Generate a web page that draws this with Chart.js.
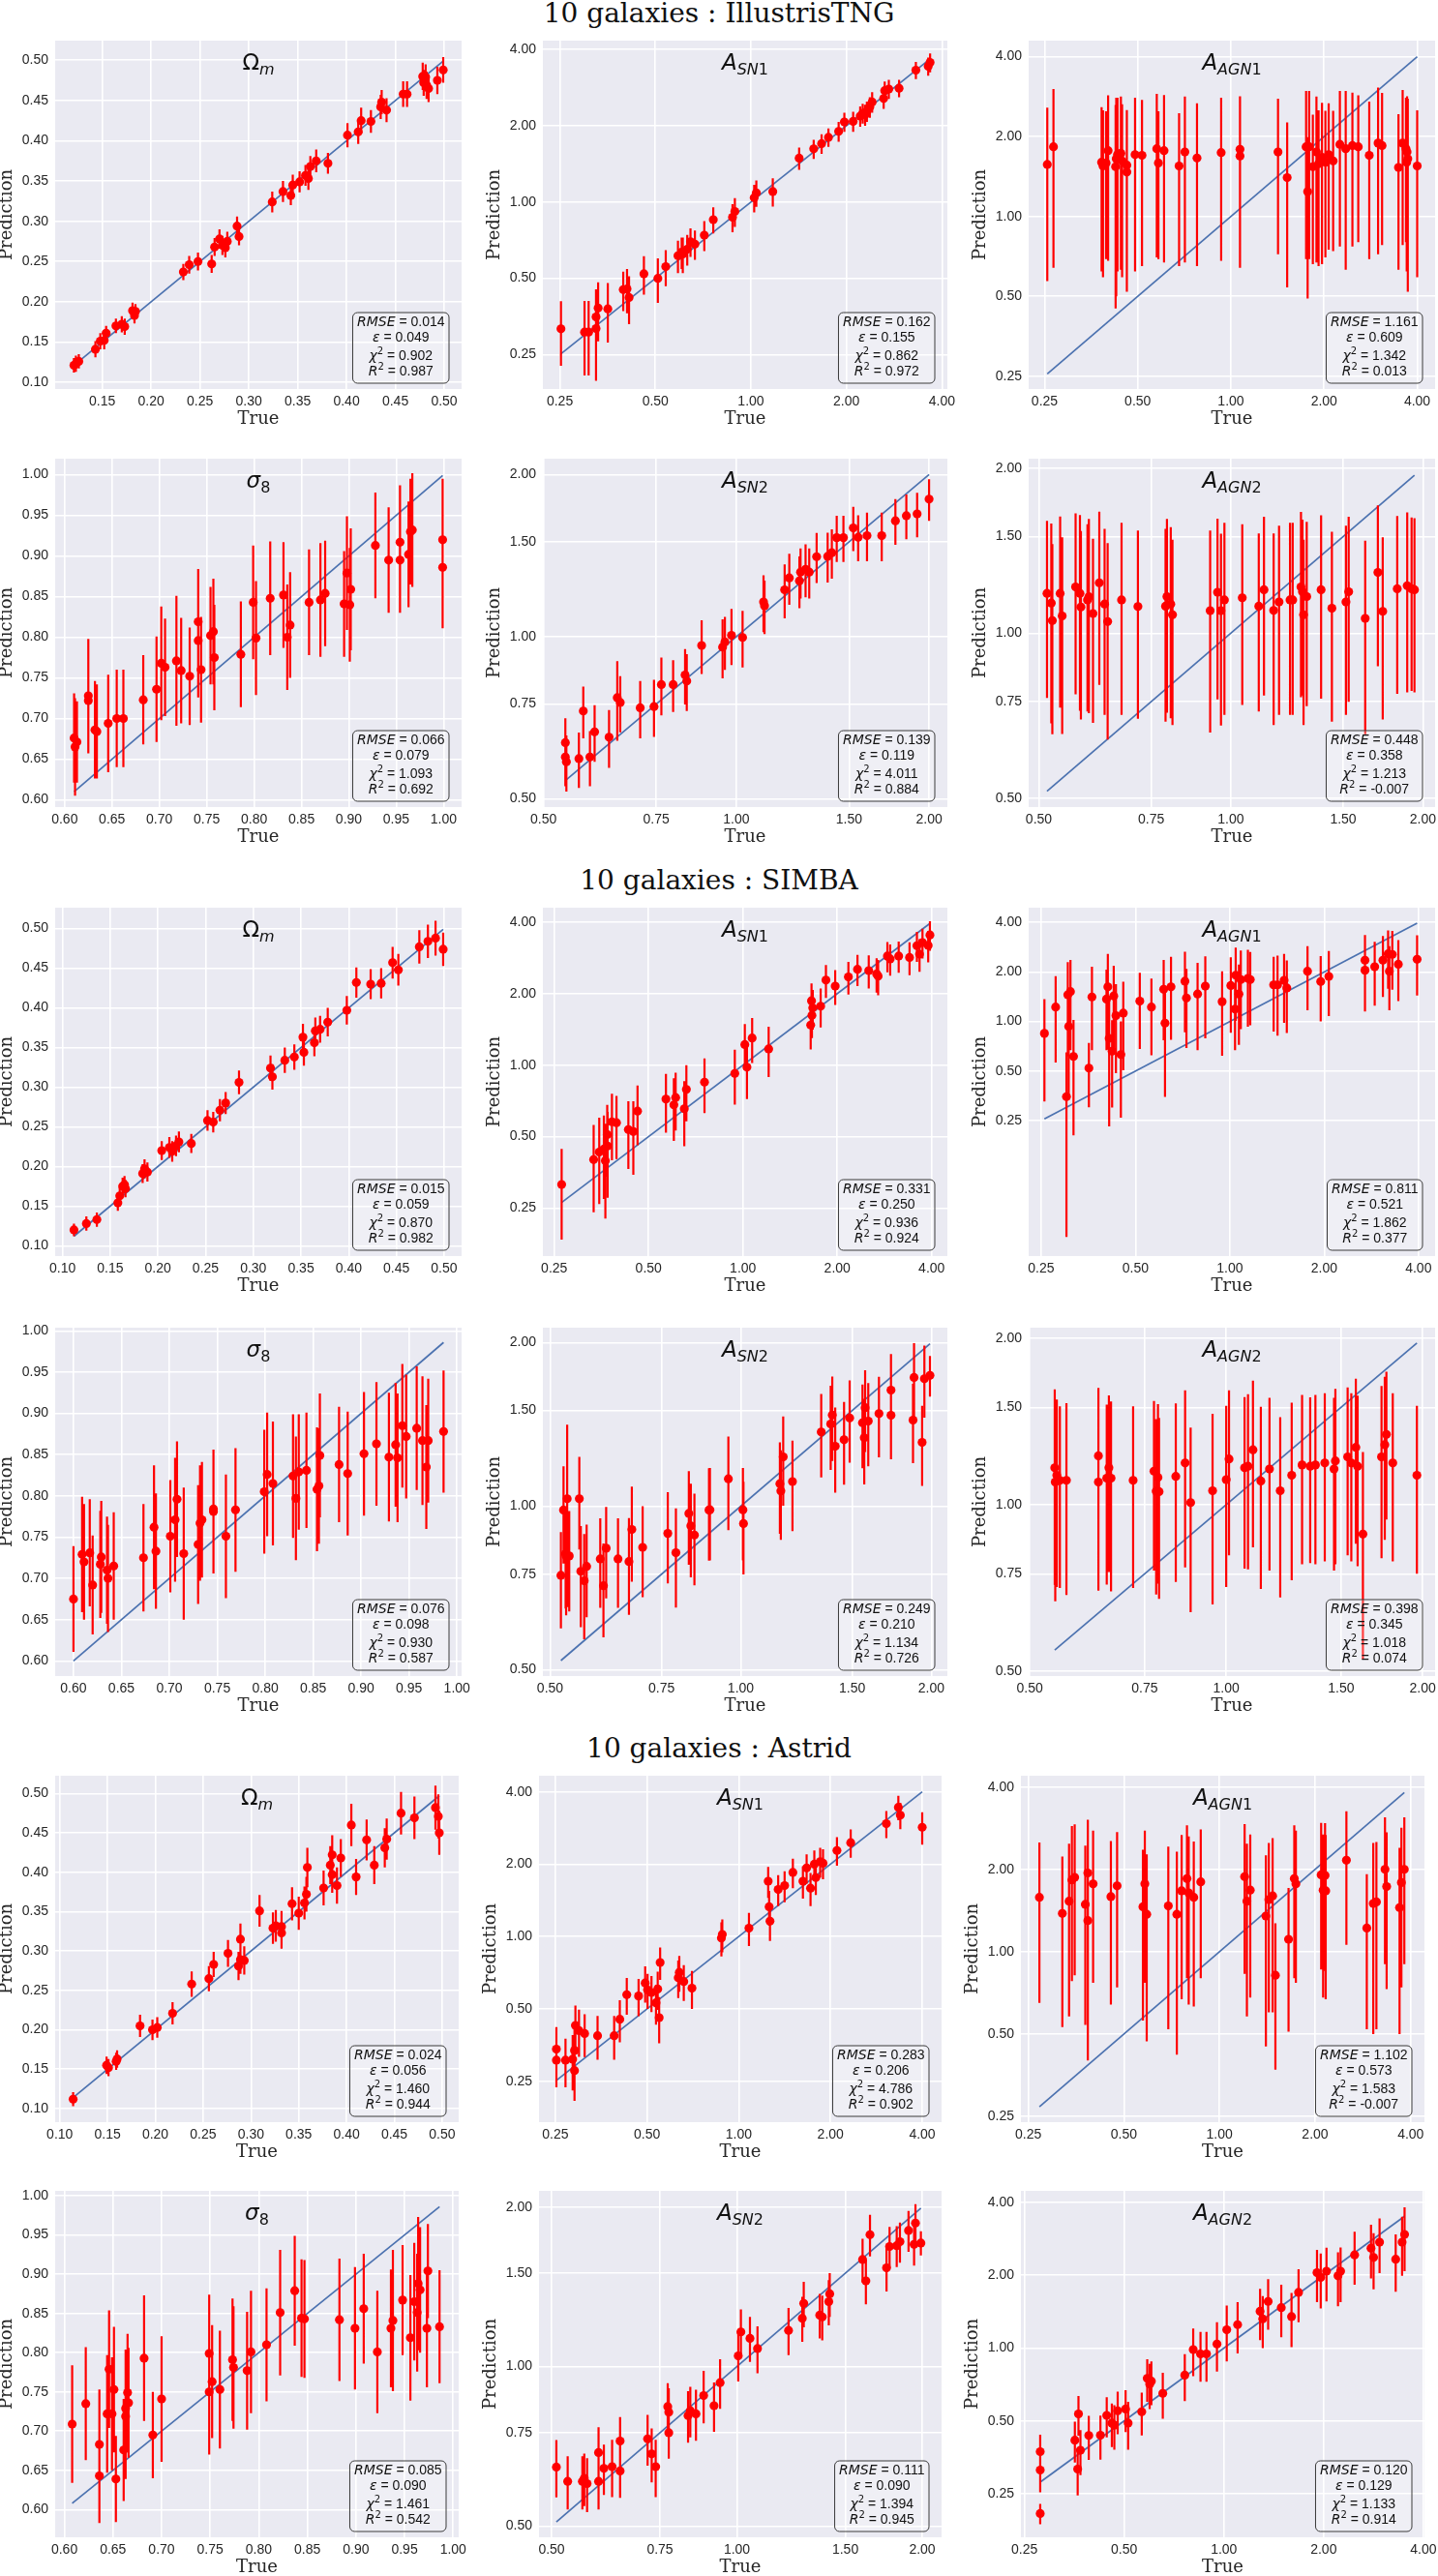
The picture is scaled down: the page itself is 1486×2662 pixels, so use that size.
<!DOCTYPE html>
<html>
<head>
<meta charset="utf-8">
<script src="https://cdn.jsdelivr.net/npm/chart.js@4.4.1/dist/chart.umd.min.js"></script>
<style>
  body { margin: 0; background: #fff; }
  #page { position: relative; width: 1486px; height: 2662px; overflow: hidden; }
  .sect { position: absolute; left: 0; width: 1486px; height: 34px; line-height: 34px; text-align: center;
          font-family: "DejaVu Serif", serif; font-size: 28px; color: #111; }
  canvas { position: absolute; }
</style>
</head>
<body>
<div id="page"></div>
<script>
// ---- tick labels ----
const omegaTicks = [0.10, 0.15, 0.20, 0.25, 0.30, 0.35, 0.40, 0.45, 0.50];
const sigmaTicks = [0.60, 0.65, 0.70, 0.75, 0.80, 0.85, 0.90, 0.95, 1.00];
const wideLogTicks = [0.25, 0.50, 1.00, 2.00, 4.00];
const narrowLogTicks = [0.50, 0.75, 1.00, 1.50, 2.00];

// ---- IllustrisTNG ----
const tngOmTrue = [0.121,0.123,0.126,0.143,0.148,0.152,0.154,0.164,0.170,0.173,0.181,0.183,0.184,0.233,0.239,0.248,0.262,0.265,0.270,0.273,0.276,0.278,0.288,0.290,0.324,0.335,0.343,0.345,0.352,0.358,0.361,0.363,0.369,0.381,0.401,0.412,0.415,0.425,0.435,0.436,0.441,0.458,0.462,0.478,0.479,0.481,0.482,0.484,0.493,0.499];
const tngOmPred = [0.121,0.123,0.126,0.141,0.151,0.152,0.161,0.170,0.172,0.169,0.189,0.183,0.188,0.237,0.246,0.250,0.247,0.268,0.278,0.270,0.267,0.275,0.294,0.281,0.324,0.337,0.332,0.345,0.349,0.357,0.353,0.368,0.375,0.372,0.407,0.411,0.425,0.424,0.442,0.448,0.438,0.458,0.458,0.480,0.472,0.479,0.469,0.465,0.475,0.488];
const tngOmErr = [0.009,0.010,0.009,0.010,0.010,0.011,0.009,0.009,0.010,0.010,0.010,0.010,0.009,0.010,0.011,0.011,0.011,0.011,0.012,0.012,0.012,0.012,0.012,0.011,0.013,0.013,0.012,0.013,0.013,0.013,0.014,0.013,0.014,0.013,0.015,0.015,0.016,0.014,0.015,0.015,0.015,0.016,0.016,0.017,0.016,0.016,0.017,0.017,0.017,0.016];

const tngSn1True = [0.252,0.299,0.308,0.325,0.325,0.330,0.354,0.396,0.407,0.413,0.460,0.509,0.539,0.589,0.605,0.610,0.630,0.645,0.666,0.713,0.761,0.875,0.890,1.024,1.040,1.172,1.419,1.577,1.670,1.755,1.890,1.970,2.100,2.210,2.250,2.290,2.320,2.370,2.410,2.620,2.640,2.720,2.930,3.310,3.620,3.670];
const tngSn1Pred = [0.316,0.307,0.307,0.352,0.317,0.382,0.379,0.451,0.454,0.420,0.521,0.500,0.556,0.614,0.634,0.624,0.651,0.697,0.682,0.740,0.852,0.870,0.917,1.040,1.087,1.100,1.490,1.620,1.700,1.800,1.900,2.070,2.080,2.180,2.240,2.210,2.280,2.370,2.480,2.560,2.750,2.790,2.810,3.310,3.430,3.550];
const tngSn1Err = [0.09,0.10,0.10,0.10,0.12,0.10,0.10,0.08,0.09,0.09,0.09,0.10,0.09,0.09,0.09,0.10,0.09,0.09,0.09,0.10,0.10,0.11,0.12,0.13,0.13,0.14,0.15,0.14,0.15,0.15,0.17,0.18,0.19,0.20,0.20,0.21,0.21,0.22,0.23,0.23,0.24,0.24,0.22,0.26,0.28,0.30];

const tngAgn1True = [0.255,0.267,0.382,0.386,0.395,0.401,0.424,0.426,0.430,0.441,0.445,0.461,0.461,0.490,0.516,0.576,0.583,0.608,0.680,0.710,0.777,0.930,1.070,1.070,1.420,1.520,1.750,1.770,1.790,1.840,1.890,1.920,1.970,2.020,2.070,2.140,2.250,2.350,2.470,2.580,2.800,2.990,3.080,3.480,3.590,3.680,3.710,3.700,3.730,4.000];
const tngAgn1Pred = [1.57,1.83,1.60,1.55,1.59,1.77,1.54,1.65,1.71,1.73,1.62,1.56,1.47,1.71,1.70,1.80,1.59,1.77,1.55,1.75,1.66,1.74,1.79,1.69,1.75,1.40,1.83,1.24,1.83,1.54,1.75,1.58,1.67,1.60,1.71,1.62,1.87,1.80,1.85,1.83,1.70,1.89,1.85,1.53,1.89,1.80,1.75,1.60,1.65,1.55];
const tngAgn1Err = [1.00,1.19,0.98,0.96,0.90,1.09,1.09,1.15,1.09,1.10,1.03,0.96,0.95,1.09,1.05,1.10,0.90,1.10,0.90,1.08,1.01,1.06,1.05,1.05,1.03,0.86,1.14,0.75,1.14,0.88,1.08,0.93,1.01,0.90,0.96,0.88,1.10,1.17,1.08,1.03,1.01,1.17,1.07,0.90,1.11,1.00,1.09,0.98,1.13,0.96];

const tngS8True = [0.610,0.611,0.613,0.625,0.625,0.632,0.634,0.646,0.655,0.662,0.683,0.697,0.702,0.706,0.718,0.723,0.732,0.741,0.741,0.744,0.754,0.757,0.758,0.786,0.799,0.802,0.817,0.831,0.835,0.838,0.858,0.870,0.875,0.895,0.898,0.901,0.902,0.928,0.942,0.954,0.954,0.963,0.965,0.967,0.999,0.999];
const tngS8Pred = [0.676,0.665,0.671,0.728,0.722,0.686,0.684,0.694,0.700,0.700,0.723,0.736,0.768,0.763,0.771,0.759,0.752,0.819,0.796,0.760,0.802,0.807,0.775,0.779,0.843,0.799,0.848,0.852,0.800,0.815,0.843,0.846,0.854,0.841,0.879,0.840,0.859,0.913,0.895,0.895,0.917,0.902,0.930,0.932,0.920,0.886];
const tngS8Err = [0.055,0.060,0.050,0.070,0.065,0.060,0.058,0.060,0.060,0.060,0.055,0.065,0.070,0.060,0.080,0.065,0.060,0.065,0.070,0.065,0.060,0.065,0.065,0.065,0.070,0.070,0.070,0.065,0.065,0.065,0.065,0.070,0.065,0.065,0.070,0.070,0.075,0.065,0.065,0.065,0.070,0.065,0.065,0.070,0.075,0.075];

const tngSn2True = [0.541,0.541,0.543,0.568,0.577,0.591,0.601,0.633,0.652,0.659,0.708,0.744,0.764,0.797,0.832,0.837,0.883,0.952,0.960,0.983,1.023,1.103,1.107,1.190,1.210,1.255,1.260,1.283,1.300,1.335,1.389,1.410,1.435,1.470,1.523,1.550,1.600,1.687,1.772,1.843,1.916,2.000];
const tngSn2Pred = [0.636,0.598,0.586,0.594,0.728,0.598,0.666,0.651,0.771,0.755,0.738,0.742,0.815,0.815,0.849,0.828,0.963,0.957,0.978,1.006,0.997,1.160,1.141,1.222,1.286,1.270,1.318,1.334,1.318,1.408,1.410,1.432,1.527,1.527,1.592,1.530,1.540,1.540,1.641,1.677,1.690,1.800];
const tngSn2Err = [0.07,0.07,0.07,0.07,0.08,0.07,0.08,0.08,0.13,0.09,0.09,0.09,0.10,0.09,0.10,0.10,0.11,0.12,0.11,0.12,0.12,0.14,0.13,0.14,0.14,0.14,0.14,0.15,0.14,0.15,0.15,0.15,0.15,0.15,0.15,0.15,0.16,0.16,0.16,0.16,0.16,0.16];

const tngAgn2True = [0.515,0.523,0.525,0.540,0.544,0.571,0.580,0.582,0.596,0.599,0.608,0.622,0.634,0.641,0.674,0.715,0.790,0.794,0.805,0.810,0.928,0.953,0.965,0.977,1.042,1.106,1.127,1.167,1.190,1.238,1.250,1.288,1.295,1.300,1.315,1.385,1.440,1.515,1.530,1.624,1.700,1.730,1.823,1.890,1.920,1.940];
const tngAgn2Pred = [1.182,1.135,1.054,1.182,1.075,1.214,1.182,1.116,1.150,1.165,1.086,1.235,1.130,1.050,1.150,1.118,1.120,1.166,1.130,1.080,1.099,1.187,1.099,1.150,1.160,1.120,1.200,1.100,1.140,1.150,1.150,1.214,1.190,1.080,1.166,1.200,1.110,1.140,1.190,1.064,1.290,1.096,1.205,1.220,1.205,1.200];
const tngAgn2Err = [0.42,0.45,0.40,0.45,0.42,0.44,0.46,0.42,0.43,0.45,0.40,0.43,0.42,0.41,0.44,0.42,0.43,0.45,0.43,0.40,0.44,0.43,0.42,0.44,0.42,0.40,0.43,0.42,0.43,0.44,0.44,0.45,0.42,0.40,0.43,0.44,0.42,0.43,0.44,0.41,0.42,0.40,0.43,0.44,0.42,0.42];

const tngStats = [
  ['0.014','0.049','0.902','0.987'], ['0.162','0.155','0.862','0.972'], ['1.161','0.609','1.342','0.013'],
  ['0.066','0.079','1.093','0.692'], ['0.139','0.119','4.011','0.884'], ['0.448','0.358','1.213','-0.007']
];

// ---- SIMBA ----
const simOmTrue = [0.112,0.125,0.136,0.158,0.160,0.163,0.166,0.165,0.184,0.186,0.189,0.204,0.212,0.215,0.219,0.222,0.235,0.252,0.258,0.265,0.271,0.285,0.318,0.320,0.333,0.343,0.352,0.353,0.364,0.365,0.370,0.378,0.398,0.408,0.423,0.434,0.446,0.452,0.474,0.483,0.491,0.499];
const simOmPred = [0.120,0.128,0.133,0.154,0.163,0.175,0.172,0.177,0.191,0.197,0.193,0.220,0.224,0.219,0.226,0.231,0.229,0.258,0.256,0.271,0.280,0.306,0.324,0.313,0.334,0.338,0.363,0.344,0.356,0.371,0.373,0.382,0.397,0.432,0.430,0.431,0.457,0.448,0.477,0.484,0.488,0.474];
const simOmErr = [0.008,0.009,0.009,0.010,0.010,0.011,0.011,0.011,0.012,0.012,0.012,0.012,0.013,0.013,0.013,0.013,0.012,0.013,0.013,0.014,0.014,0.015,0.016,0.016,0.016,0.016,0.017,0.017,0.017,0.017,0.017,0.018,0.018,0.019,0.019,0.019,0.020,0.020,0.021,0.021,0.022,0.021];

const simSn1True = [0.264,0.334,0.348,0.360,0.364,0.369,0.370,0.382,0.395,0.431,0.447,0.461,0.568,0.602,0.610,0.650,0.660,0.754,0.942,1.014,1.030,1.070,1.208,1.645,1.655,1.660,1.670,1.770,1.840,1.970,2.170,2.320,2.520,2.670,2.700,2.890,2.950,3.140,3.400,3.590,3.660,3.740,3.900,3.950];
const simSn1Pred = [0.314,0.400,0.430,0.443,0.396,0.510,0.456,0.577,0.572,0.535,0.525,0.640,0.719,0.680,0.730,0.655,0.790,0.848,0.922,1.220,0.980,1.300,1.170,1.475,1.866,1.620,1.740,1.770,2.280,2.150,2.350,2.530,2.500,2.420,2.370,2.880,2.800,2.880,2.840,3.180,2.930,3.280,3.190,3.530];
const simSn1Err = [0.13,0.16,0.17,0.17,0.17,0.17,0.18,0.18,0.17,0.17,0.18,0.18,0.20,0.20,0.20,0.20,0.21,0.22,0.24,0.27,0.26,0.28,0.28,0.31,0.34,0.32,0.33,0.33,0.36,0.36,0.37,0.38,0.40,0.40,0.40,0.42,0.42,0.43,0.45,0.46,0.46,0.47,0.48,0.50];

const simAgn1True = [0.256,0.278,0.301,0.304,0.306,0.310,0.317,0.355,0.363,0.404,0.408,0.412,0.421,0.426,0.433,0.449,0.457,0.516,0.562,0.615,0.621,0.649,0.719,0.727,0.789,0.835,0.945,1.007,1.039,1.044,1.069,1.084,1.142,1.162,1.380,1.420,1.490,1.520,1.770,1.950,2.070,2.700,2.700,2.900,3.080,3.200,3.230,3.300,3.450,3.960];
const simAgn1Pred = [0.847,1.224,0.349,1.454,0.934,1.520,0.613,0.521,1.410,1.370,1.625,0.790,0.660,1.430,1.085,0.630,1.125,1.330,1.224,1.570,0.978,1.625,1.760,1.390,1.470,1.640,1.320,1.655,1.190,1.910,1.470,1.800,1.830,1.800,1.670,1.670,1.780,1.600,2.020,1.750,1.880,2.050,2.360,2.150,2.360,2.580,2.020,2.560,2.230,2.390];
const simAgn1Err = [0.52,0.66,0.30,0.84,0.60,0.85,0.41,0.22,0.74,0.70,0.95,0.56,0.36,0.75,0.60,0.37,0.62,0.65,0.60,0.80,0.63,0.85,0.90,0.70,0.80,0.85,0.70,0.80,0.52,0.90,0.75,0.90,0.90,0.85,0.80,0.85,0.80,0.75,0.85,0.75,0.80,0.90,1.00,0.90,0.95,1.00,0.85,1.00,0.90,0.95];

const simS8True = [0.600,0.609,0.611,0.617,0.620,0.628,0.629,0.635,0.636,0.642,0.673,0.684,0.686,0.701,0.706,0.708,0.715,0.730,0.732,0.734,0.746,0.746,0.759,0.769,0.799,0.802,0.808,0.829,0.832,0.835,0.843,0.854,0.856,0.857,0.877,0.886,0.903,0.916,0.929,0.936,0.938,0.943,0.947,0.958,0.964,0.968,0.970,0.986];
const simS8Pred = [0.675,0.729,0.720,0.731,0.692,0.717,0.726,0.710,0.700,0.715,0.725,0.762,0.733,0.751,0.771,0.796,0.730,0.741,0.767,0.771,0.781,0.784,0.751,0.783,0.805,0.826,0.815,0.824,0.797,0.829,0.831,0.808,0.812,0.849,0.838,0.827,0.851,0.863,0.847,0.862,0.846,0.885,0.872,0.882,0.867,0.835,0.867,0.878];
const simS8Err = [0.064,0.070,0.070,0.065,0.060,0.065,0.068,0.065,0.065,0.065,0.065,0.075,0.070,0.068,0.075,0.070,0.080,0.072,0.070,0.070,0.075,0.070,0.075,0.075,0.075,0.075,0.075,0.075,0.075,0.070,0.070,0.075,0.070,0.075,0.070,0.075,0.075,0.075,0.078,0.075,0.078,0.075,0.075,0.075,0.078,0.075,0.075,0.074];

const simSn2True = [0.520,0.525,0.529,0.530,0.532,0.536,0.556,0.559,0.566,0.571,0.600,0.607,0.613,0.640,0.666,0.673,0.700,0.767,0.790,0.828,0.834,0.845,0.891,0.894,0.956,1.008,1.010,1.153,1.157,1.167,1.207,1.340,1.387,1.395,1.410,1.456,1.486,1.557,1.567,1.572,1.590,1.653,1.727,1.727,1.871,1.878,1.934,1.950,1.990];
const simSn2Pred = [0.746,0.984,0.818,0.810,1.032,0.810,1.032,0.759,0.729,0.775,0.800,0.714,0.837,0.800,0.791,0.906,0.840,0.891,0.821,0.970,0.920,0.885,0.984,0.985,1.123,0.985,0.929,1.100,1.067,1.232,1.110,1.369,1.416,1.471,1.289,1.325,1.453,1.424,1.336,1.518,1.434,1.480,1.635,1.470,1.440,1.725,1.310,1.715,1.740];
const simSn2Err = [0.15,0.20,0.17,0.18,0.38,0.17,0.20,0.16,0.16,0.15,0.15,0.14,0.16,0.15,0.16,0.18,0.16,0.17,0.17,0.19,0.18,0.17,0.19,0.19,0.22,0.19,0.18,0.21,0.20,0.23,0.21,0.24,0.25,0.26,0.23,0.23,0.25,0.25,0.24,0.26,0.25,0.25,0.27,0.25,0.24,0.27,0.22,0.26,0.15];

const simAgn2True = [0.546,0.547,0.550,0.556,0.569,0.637,0.637,0.656,0.661,0.666,0.720,0.775,0.781,0.786,0.789,0.837,0.865,0.882,0.953,1.000,1.010,1.067,1.080,1.099,1.130,1.165,1.210,1.260,1.307,1.345,1.370,1.416,1.463,1.470,1.535,1.555,1.580,1.590,1.620,1.730,1.750,1.760,1.800,1.960];
const simAgn2Pred = [1.166,1.099,1.130,1.107,1.107,1.226,1.099,1.117,1.166,1.117,1.107,1.150,1.058,1.120,1.056,1.125,1.190,1.009,1.060,1.110,1.210,1.166,1.174,1.257,1.104,1.160,1.060,1.130,1.180,1.174,1.180,1.190,1.160,1.200,1.220,1.190,1.270,1.174,0.885,1.220,1.284,1.340,1.190,1.130];
const simAgn2Err = [0.45,0.43,0.42,0.40,0.42,0.40,0.40,0.40,0.41,0.42,0.40,0.39,0.37,0.40,0.38,0.40,0.42,0.37,0.40,0.40,0.40,0.40,0.41,0.42,0.40,0.40,0.38,0.40,0.40,0.39,0.40,0.40,0.40,0.42,0.41,0.40,0.42,0.40,0.36,0.42,0.42,0.40,0.40,0.38];

const simStats = [
  ['0.015','0.059','0.870','0.982'], ['0.331','0.250','0.936','0.924'], ['0.811','0.521','1.862','0.377'],
  ['0.076','0.098','0.930','0.587'], ['0.249','0.210','1.134','0.726'], ['0.398','0.345','1.018','0.074']
];

// ---- Astrid ----
const astOmTrue = [0.114,0.149,0.151,0.159,0.160,0.184,0.197,0.202,0.218,0.238,0.256,0.261,0.276,0.287,0.289,0.289,0.293,0.309,0.323,0.326,0.332,0.332,0.343,0.350,0.356,0.358,0.359,0.376,0.383,0.385,0.385,0.390,0.394,0.405,0.410,0.421,0.429,0.440,0.442,0.457,0.471,0.493,0.496,0.497];
const astOmPred = [0.112,0.155,0.152,0.160,0.163,0.205,0.200,0.203,0.221,0.258,0.265,0.283,0.297,0.281,0.315,0.289,0.288,0.351,0.329,0.332,0.323,0.331,0.360,0.348,0.361,0.372,0.406,0.380,0.409,0.397,0.422,0.383,0.418,0.460,0.394,0.441,0.409,0.431,0.442,0.475,0.469,0.482,0.471,0.450];
const astOmErr = [0.009,0.011,0.011,0.011,0.011,0.014,0.013,0.013,0.014,0.016,0.016,0.016,0.017,0.018,0.020,0.018,0.018,0.020,0.020,0.020,0.020,0.020,0.021,0.021,0.021,0.022,0.025,0.022,0.024,0.023,0.025,0.023,0.024,0.027,0.023,0.026,0.024,0.025,0.026,0.027,0.027,0.028,0.028,0.028];

const astSn1True = [0.252,0.252,0.270,0.285,0.289,0.289,0.291,0.299,0.312,0.344,0.390,0.407,0.429,0.469,0.493,0.502,0.517,0.535,0.542,0.548,0.552,0.633,0.638,0.660,0.702,0.877,0.883,1.080,1.249,1.258,1.266,1.347,1.414,1.505,1.624,1.670,1.720,1.770,1.790,1.850,1.890,2.100,2.330,3.050,3.340,3.390,4.000];
const astSn1Pred = [0.340,0.306,0.306,0.309,0.277,0.336,0.427,0.406,0.395,0.387,0.387,0.453,0.573,0.566,0.641,0.600,0.585,0.530,0.605,0.460,0.780,0.675,0.710,0.650,0.610,0.987,1.020,1.084,1.700,1.330,1.160,1.570,1.630,1.850,1.700,1.930,1.590,2.000,1.760,2.050,2.020,2.280,2.460,2.950,3.450,3.200,2.850];
const astSn1Err = [0.08,0.07,0.07,0.08,0.07,0.08,0.09,0.09,0.08,0.08,0.08,0.09,0.10,0.10,0.11,0.10,0.10,0.10,0.11,0.10,0.12,0.12,0.12,0.11,0.11,0.16,0.16,0.17,0.25,0.22,0.20,0.23,0.24,0.26,0.26,0.27,0.25,0.28,0.27,0.29,0.29,0.31,0.33,0.38,0.40,0.40,0.44];

const astAgn1True = [0.271,0.320,0.336,0.343,0.350,0.378,0.385,0.385,0.400,0.455,0.476,0.574,0.582,0.590,0.690,0.734,0.760,0.790,0.800,0.830,0.873,1.200,1.220,1.250,1.400,1.430,1.470,1.500,1.650,1.720,1.740,2.090,2.120,2.150,2.160,2.510,2.910,3.050,3.120,3.320,3.360,3.690,3.740,3.820];
const astAgn1Pred = [1.58,1.38,1.53,1.83,1.87,1.49,1.94,1.30,1.77,1.59,1.74,1.46,1.77,1.37,1.47,1.37,1.67,1.85,1.64,1.58,1.80,1.88,1.53,1.68,1.35,1.55,1.60,0.82,1.11,1.85,1.77,1.91,1.68,1.90,1.67,2.16,1.22,1.50,1.52,2.00,1.73,1.45,1.79,2.00];
const astAgn1Err = [0.93,0.85,0.95,1.05,1.05,0.95,1.10,0.90,1.00,0.95,1.00,0.90,1.00,0.90,0.95,0.95,1.00,1.05,1.00,0.95,1.00,1.05,0.95,1.00,0.90,0.95,1.00,0.45,0.60,1.05,1.00,1.05,1.00,1.05,1.00,1.10,0.70,1.00,1.00,1.10,1.00,0.95,1.05,1.10];

const astS8True = [0.608,0.622,0.636,0.636,0.644,0.646,0.649,0.651,0.653,0.661,0.663,0.663,0.666,0.665,0.682,0.691,0.700,0.749,0.749,0.752,0.760,0.773,0.774,0.788,0.792,0.808,0.822,0.837,0.844,0.847,0.883,0.899,0.908,0.922,0.936,0.938,0.948,0.956,0.960,0.963,0.964,0.966,0.973,0.974,0.986];
const astS8Pred = [0.709,0.735,0.683,0.643,0.722,0.779,0.722,0.753,0.639,0.676,0.719,0.729,0.736,0.749,0.793,0.695,0.741,0.799,0.750,0.763,0.753,0.791,0.781,0.777,0.801,0.810,0.851,0.879,0.844,0.843,0.842,0.831,0.856,0.801,0.831,0.841,0.867,0.819,0.865,0.851,0.888,0.880,0.831,0.904,0.833];
const astS8Err = [0.075,0.072,0.070,0.060,0.075,0.075,0.072,0.080,0.055,0.065,0.080,0.075,0.070,0.075,0.080,0.055,0.080,0.075,0.080,0.072,0.075,0.078,0.078,0.075,0.078,0.072,0.080,0.070,0.075,0.075,0.078,0.078,0.070,0.078,0.075,0.090,0.070,0.080,0.075,0.075,0.085,0.080,0.075,0.060,0.072];

const astSn2True = [0.509,0.531,0.561,0.565,0.571,0.596,0.596,0.608,0.627,0.646,0.646,0.716,0.727,0.738,0.772,0.775,0.775,0.833,0.840,0.858,0.883,0.918,0.939,1.005,1.015,1.050,1.080,1.213,1.277,1.284,1.363,1.376,1.410,1.415,1.600,1.620,1.645,1.750,1.770,1.818,1.840,1.900,1.940,1.950,1.990];
const astSn2Pred = [0.646,0.607,0.607,0.615,0.601,0.688,0.607,0.642,0.647,0.635,0.723,0.730,0.684,0.647,0.840,0.820,0.750,0.808,0.825,0.814,0.881,0.843,0.932,1.047,1.162,1.130,1.081,1.170,1.233,1.315,1.250,1.240,1.325,1.371,1.592,1.450,1.773,1.535,1.684,1.690,1.720,1.806,1.700,1.865,1.710];
const astSn2Err = [0.08,0.07,0.07,0.07,0.07,0.08,0.07,0.07,0.08,0.07,0.08,0.08,0.08,0.08,0.09,0.09,0.08,0.09,0.09,0.09,0.10,0.09,0.10,0.11,0.12,0.11,0.11,0.12,0.12,0.13,0.12,0.12,0.13,0.13,0.15,0.14,0.16,0.15,0.15,0.15,0.15,0.16,0.15,0.16,0.09];

const astAgn2True = [0.279,0.279,0.279,0.355,0.362,0.364,0.369,0.391,0.424,0.443,0.459,0.467,0.478,0.505,0.514,0.565,0.587,0.597,0.604,0.654,0.762,0.808,0.850,0.886,0.953,1.020,1.100,1.286,1.310,1.360,1.490,1.600,1.680,1.910,1.960,2.040,2.210,2.250,2.480,2.780,2.830,2.950,3.300,3.450,3.510];
const astAgn2Pred = [0.373,0.313,0.207,0.416,0.316,0.534,0.378,0.435,0.436,0.527,0.490,0.480,0.550,0.560,0.490,0.545,0.749,0.710,0.730,0.650,0.773,0.986,0.946,0.946,1.040,1.190,1.250,1.420,1.320,1.560,1.470,1.350,1.700,2.050,1.960,2.080,1.990,2.080,2.430,2.590,2.370,2.740,2.330,2.740,2.950];
const astAgn2Err = [0.065,0.060,0.020,0.080,0.070,0.100,0.080,0.090,0.090,0.100,0.100,0.100,0.110,0.110,0.110,0.110,0.150,0.150,0.150,0.140,0.170,0.220,0.220,0.220,0.240,0.310,0.300,0.340,0.320,0.370,0.360,0.340,0.420,0.500,0.500,0.520,0.500,0.530,0.600,0.650,0.620,0.700,0.620,0.750,0.870];

const astStats = [
  ['0.024','0.056','1.460','0.944'], ['0.283','0.206','4.786','0.902'], ['1.102','0.573','1.583','-0.007'],
  ['0.085','0.090','1.461','0.542'], ['0.111','0.090','1.394','0.945'], ['0.120','0.129','1.133','0.914']
];

// ---- layout ----
const SANS = '"DejaVu Sans", sans-serif';
const ARIAL = '"Liberation Sans", Arial, sans-serif';
const SERIF = '"DejaVu Serif", serif';
const titleRuns = {
  Om:   [['Ω', 0, 0], ['m', 1, 1]],
  Sn1:  [['A', 1, 0], ['SN', 1, 1], ['1', 0, 1]],
  Agn1: [['A', 1, 0], ['AGN', 1, 1], ['1', 0, 1]],
  S8:   [['σ', 1, 0], ['8', 0, 1]],
  Sn2:  [['A', 1, 0], ['SN', 1, 1], ['2', 0, 1]],
  Agn2: [['A', 1, 0], ['AGN', 1, 1], ['2', 0, 1]]
};

const sections = [
  { name: 'IllustrisTNG', titleY: 14, rows: [42, 474], h: 360, cols: [[57, 477], [561, 979], [1063, 1483]], stats: tngStats,
    panels: [
      ['Om', 'lin', omegaTicks, tngOmTrue, tngOmPred, tngOmErr, [0.1018, 0.5178, 0.0916, 0.5244]],
      ['Sn1', 'log', wideLogTicks, tngSn1True, tngSn1Pred, tngSn1Err, [0.221, 4.16, 0.183, 4.33]],
      ['Agn1', 'log', wideLogTicks, tngAgn1True, tngAgn1Pred, tngAgn1Err, [0.222, 4.57, 0.2235, 4.6]],
      ['S8', 'lin', sigmaTicks, tngS8True, tngS8Pred, tngS8Err, [0.590, 1.019, 0.591, 1.0198]],
      ['Sn2', 'log', narrowLogTicks, tngSn2True, tngSn2Pred, tngSn2Err, [0.499, 2.136, 0.483, 2.14]],
      ['Agn2', 'log', narrowLogTicks, tngAgn2True, tngAgn2Pred, tngAgn2Err, [0.482, 2.09, 0.482, 2.08]]
    ] },
  { name: 'SIMBA', titleY: 910, rows: [938, 1372], h: 360, cols: [[57, 477], [561, 979], [1063, 1483]], stats: simStats,
    panels: [
      ['Om', 'lin', omegaTicks, simOmTrue, simOmPred, simOmErr, [0.0923, 0.5183, 0.087, 0.5264]],
      ['Sn1', 'log', wideLogTicks, simSn1True, simSn1Pred, simSn1Err, [0.23, 4.49, 0.157, 4.6]],
      ['Agn1', 'log', wideLogTicks, simAgn1True, simAgn1Pred, simAgn1Err, [0.228, 4.52, 0.0375, 4.92]],
      ['S8', 'lin', sigmaTicks, simS8True, simS8Pred, simS8Err, [0.5809, 1.0048, 0.5816, 1.0039]],
      ['Sn2', 'log', narrowLogTicks, simSn2True, simSn2Pred, simSn2Err, [0.487, 2.12, 0.487, 2.13]],
      ['Agn2', 'log', narrowLogTicks, simAgn2True, simAgn2Pred, simAgn2Err, [0.498, 2.09, 0.49, 2.09]]
    ] },
  { name: 'Astrid', titleY: 1807, rows: [1835, 2264], h: 358, cols: [[57, 474], [557, 973], [1055, 1472]], stats: astStats,
    panels: [
      ['Om', 'lin', omegaTicks, astOmTrue, astOmPred, astOmErr, [0.0952, 0.5173, 0.0828, 0.5225]],
      ['Sn1', 'log', wideLogTicks, astSn1True, astSn1Pred, astSn1Err, [0.221, 4.63, 0.169, 4.67]],
      ['Agn1', 'log', wideLogTicks, astAgn1True, astAgn1Pred, astAgn1Err, [0.237, 4.42, 0.238, 4.4]],
      ['S8', 'lin', sigmaTicks, astS8True, astS8Pred, astS8Err, [0.5905, 1.0057, 0.5647, 1.0062]],
      ['Sn2', 'log', narrowLogTicks, astSn2True, astSn2Pred, astSn2Err, [0.477, 2.15, 0.476, 2.145]],
      ['Agn2', 'log', wideLogTicks, astAgn2True, astAgn2Pred, astAgn2Err, [0.244, 4.03, 0.165, 4.47]]
    ] }
];

// a run is [text, italic, shift, size, family]
function runFont(r) {
  return (r[1] ? 'italic ' : '') + r[3] + 'px ' + (r[4] || SANS);
}

function measureRuns(ctx, runs) {
  let w = 0;
  runs.forEach(r => { ctx.font = runFont(r); w += ctx.measureText(r[0]).width; });
  return w;
}

// draws a run list centred on cx
function drawRuns(ctx, runs, cx, y) {
  let x = cx - measureRuns(ctx, runs) / 2;
  runs.forEach(r => {
    ctx.font = runFont(r);
    ctx.fillText(r[0], x, y + r[2]);
    x += ctx.measureText(r[0]).width;
  });
}

const bgPlugin = {
  id: 'bg',
  beforeDraw(chart) {
    const { ctx, chartArea: a } = chart;
    ctx.save();
    ctx.fillStyle = '#EAEAF2';
    ctx.fillRect(a.left, a.top, a.right - a.left, a.bottom - a.top);
    ctx.restore();
  }
};

const labelPlugin = {
  id: 'labels',
  afterDraw(chart) {
    const { ctx, chartArea: a } = chart;
    const o = chart.options.plugins.labels;
    ctx.save();
    ctx.fillStyle = '#111';
    ctx.textBaseline = 'alphabetic';
    // panel title
    const runs = titleRuns[o.param].map(r => [r[0], r[1], r[2] ? 5 : 0, r[2] ? 16 : 23]);
    drawRuns(ctx, runs, (a.left + a.right) / 2, a.top + 30);
    // stats box
    const s = o.stats;
    const lines = [
      [['RMSE', 1, 0, 14], [' = ' + s[0], 0, 0, 14, ARIAL]],
      [['ε', 1, 0, 14], [' = ' + s[1], 0, 0, 14, ARIAL]],
      [['χ', 1, 0, 14], ['2', 0, -6, 10], [' = ' + s[2], 0, 0, 14, ARIAL]],
      [['R', 1, 0, 14], ['2', 0, -6, 10], [' = ' + s[3], 0, 0, 14, ARIAL]]
    ];
    const w = Math.max(...lines.map(l => measureRuns(ctx, l))) + 9;
    const h = 73;
    const right = a.right - 13, bottom = a.bottom - 6;
    const left = right - w, top = bottom - h;
    ctx.beginPath();
    ctx.roundRect(left, top, w, h, 5);
    ctx.fillStyle = 'rgba(255,255,255,0.25)';
    ctx.fill();
    ctx.strokeStyle = '#3a3a3a';
    ctx.lineWidth = 1;
    ctx.stroke();
    ctx.fillStyle = '#111';
    const base = [14, 30, 49, 65];
    lines.forEach((l, i) => drawRuns(ctx, l, left + w / 2, top + base[i]));
    ctx.restore();
  }
};

function axis(kind, min, max, ticks, title, isY) {
  return {
    type: kind === 'log' ? 'logarithmic' : 'linear',
    min: min, max: max,
    grid: { color: '#ffffff', lineWidth: 1.6, drawTicks: false },
    border: { display: false },
    ticks: {
      color: '#262626', font: { family: ARIAL, size: 14 }, padding: isY ? 7 : 5,
      autoSkip: false, maxRotation: 0, callback: v => Number(v).toFixed(2)
    },
    title: { display: true, text: title, color: '#262626', font: { family: SERIF, size: 18 },
             padding: isY ? { top: 0, bottom: 0 } : { top: 0, bottom: 2 } },
    afterBuildTicks: s => { s.ticks = ticks.filter(v => v >= min - 1e-9 && v <= max + 1e-9).map(v => ({ value: v })); },
    afterFit: s => {
      if (isY) s.width = 60; else s.height = 44;
      s.paddingLeft = 0; s.paddingRight = 0; s.paddingTop = 0; s.paddingBottom = 0;
    }
  };
}

const RIGHT_PAD = 22;
const page = document.getElementById('page');
sections.forEach(sec => {
  const t = document.createElement('div');
  t.className = 'sect';
  t.style.top = (sec.titleY - 17) + 'px';
  t.textContent = '10 galaxies : ' + sec.name;
  page.appendChild(t);

  sec.panels.forEach((p, idx) => {
    const [param, kind, ticks, tv, pv, ev, lim] = p;
    const col = sec.cols[idx % 3];
    const plotTop = sec.rows[Math.floor(idx / 3)];
    const plotW = col[1] - col[0];
    const c = document.createElement('canvas');
    const W = plotW + 60 + RIGHT_PAD, H = sec.h + 10 + 44;
    c.width = W; c.height = H;
    c.style.width = W + 'px'; c.style.height = H + 'px';
    c.style.left = (col[0] - 60) + 'px';
    c.style.top = (plotTop - 10) + 'px';
    page.appendChild(c);

    // error bars: matplotlib clips the non-positive ends on a log axis
    const floor = kind === 'log' ? lim[2] * 1.02 : -Infinity;
    const bars = [];
    tv.forEach((x, i) => {
      bars.push({ x: x, y: Math.max(pv[i] - ev[i], floor) }, { x: x, y: pv[i] + ev[i] }, { x: x, y: null });
    });
    const tMin = Math.min(...tv), tMax = Math.max(...tv);

    new Chart(c, {
      type: 'line',
      data: {
        datasets: [
          { type: 'line', data: tv.map((x, i) => ({ x: x, y: pv[i] })), showLine: false,
            pointRadius: 4.6, pointBackgroundColor: '#ff0000', pointBorderWidth: 0, order: 1 },
          { type: 'line', data: bars, borderColor: '#ff0000', borderWidth: 2.2, pointRadius: 0,
            spanGaps: false, order: 2 },
          { type: 'line', data: [{ x: tMin, y: tMin }, { x: tMax, y: tMax }], borderColor: '#4C72B0',
            borderWidth: 1.7, pointRadius: 0, order: 3 }
        ]
      },
      options: {
        responsive: false,
        animation: false,
        layout: { autoPadding: false, padding: { top: 10, right: RIGHT_PAD, left: 0, bottom: 0 } },
        plugins: { legend: { display: false }, tooltip: { enabled: false },
                   labels: { param: param, stats: sec.stats[idx] } },
        scales: {
          x: axis(kind, lim[0], lim[1], ticks, 'True', false),
          y: axis(kind, lim[2], lim[3], ticks, 'Prediction', true)
        }
      },
      plugins: [bgPlugin, labelPlugin]
    });
  });
});
</script>
</body>
</html>
